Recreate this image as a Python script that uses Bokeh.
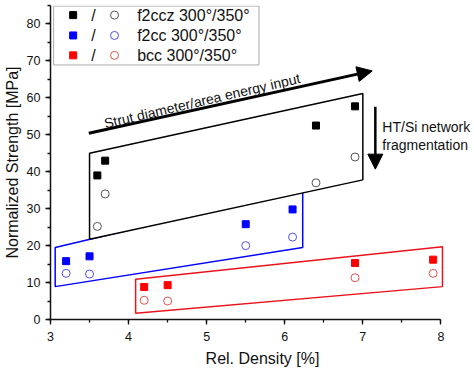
import math
from bokeh.plotting import figure
from bokeh.models import Arrow, NormalHead, Label, Range1d, SingleIntervalTicker
from bokeh.core.properties import value
from bokeh.embed import file_html
from bokeh.resources import INLINE

FONT = "Liberation Sans"

# ---- data ----
f2ccz_x = [3.6, 3.7, 6.4, 6.9]
f2ccz_300 = [39.0, 43.0, 52.5, 57.7]
f2ccz_350 = [25.2, 34.0, 37.0, 44.0]

f2cc_x = [3.2, 3.5, 5.5, 6.1]
f2cc_300 = [15.8, 17.1, 25.8, 29.8]
f2cc_350 = [12.5, 12.3, 20.0, 22.3]

bcc_x = [4.2, 4.5, 6.9, 7.9]
bcc_300 = [8.8, 9.3, 15.3, 16.2]
bcc_350 = [5.2, 5.0, 11.3, 12.5]

# envelopes
f2ccz_env_x = [3.5, 7.0, 7.0, 3.5]
f2ccz_env_y = [45.0, 61.2, 37.8, 21.7]
f2cc_env_x = [3.06, 6.23, 6.23, 3.06]
f2cc_env_y = [19.5, 35.3, 19.5, 8.9]
bcc_env_x = [4.09, 8.02, 8.02, 4.09]
bcc_env_y = [10.9, 19.7, 8.9, 1.7]

legend_labels = ["f2ccz 300°/350°", "f2cc 300°/350°", "bcc 300°/350°"]
fill_colors = ["#000000", "#0000ff", "#ff0000"]
open_colors = ["#555555", "#5050e8", "#e05050"]
env_colors = ["#000000", "#0000ff", "#e8141c"]

p = figure(width=474, height=370, output_backend="svg", toolbar_location=None,
           x_range=Range1d(3, 8.43), y_range=Range1d(0, 85),
           min_border_left=49, min_border_right=0, min_border_top=5,
           min_border_bottom=51)
p.outline_line_color = None
p.xgrid.visible = False
p.ygrid.visible = False
p.background_fill_color = "white"

p.xaxis.ticker = SingleIntervalTicker(interval=1, num_minor_ticks=2)
p.yaxis.ticker = SingleIntervalTicker(interval=10, num_minor_ticks=2)
p.xaxis.bounds = (3, 8)
for ax in (p.xaxis, p.yaxis):
    ax.axis_line_width = 1.5
    ax.axis_line_color = "#111111"
    ax.major_tick_line_color = "#111111"
    ax.minor_tick_line_color = "#111111"
    ax.major_tick_line_width = 1.3
    ax.minor_tick_line_width = 1.3
    ax.major_tick_out = 5
    ax.major_tick_in = 0
    ax.minor_tick_out = 3
    ax.minor_tick_in = 0
    ax.major_label_text_font = FONT
    ax.major_label_text_font_size = "12.5px"
    ax.major_label_text_color = "#111111"
    ax.axis_label_text_font = FONT
    ax.axis_label_text_font_size = "16px"
    ax.axis_label_text_font_style = "normal"
    ax.axis_label_text_color = "#111111"
p.xaxis.axis_label = "Rel. Density [%]"
p.yaxis.axis_label = "Normalized Strength [MPa]"
p.xaxis.major_label_standoff = 7
p.xaxis.axis_label_standoff = 6
p.yaxis.major_label_standoff = 5
p.yaxis.axis_label_standoff = 3

# envelopes (red, blue, black — black on top with white fill)
p.patch(bcc_env_x, bcc_env_y, fill_color="white", line_color=env_colors[2], line_width=1.5)
p.patch(f2cc_env_x, f2cc_env_y, fill_color="white", line_color=env_colors[1], line_width=1.5)
p.patch(f2ccz_env_x, f2ccz_env_y, fill_color="white", line_color=env_colors[0], line_width=1.5)

series = [(f2ccz_x, f2ccz_300, f2ccz_350), (f2cc_x, f2cc_300, f2cc_350), (bcc_x, bcc_300, bcc_350)]
for i, (xs, y300, y350) in enumerate(series):
    p.scatter(xs, y300, marker="square", size=7, fill_color=fill_colors[i], line_color=fill_colors[i])
    p.scatter(xs, y350, marker="circle", size=8, fill_color=None, line_color=open_colors[i], line_width=1)

# legend drawn manually
p.quad(left=[3.04], right=[5.67], bottom=[68.9], top=[84.85], fill_color="white",
       line_color="#aaaaaa", line_width=1)
rows_y = [82.4, 76.9, 71.5]
p.scatter([3.29] * 3, rows_y, marker="square", size=7, fill_color=fill_colors, line_color=fill_colors)
p.scatter([3.82] * 3, rows_y, marker="circle", size=8, fill_color=None, line_color=open_colors, line_width=1)
p.text([3.55] * 3, rows_y, text=["/"] * 3, text_font=value(FONT), text_font_size="16px",
       text_align="center", text_baseline="middle", text_color="#111111")
p.text([4.11] * 3, rows_y, text=legend_labels, text_font=value(FONT), text_font_size="16px",
       text_align="left", text_baseline="middle", text_color="#111111")

# arrows
p.add_layout(Arrow(end=NormalHead(size=15, fill_color="black", line_color="black"),
                   x_start=3.49, y_start=50.4, x_end=7.12, y_end=67.3,
                   line_width=3, line_color="black"))
p.add_layout(Arrow(end=NormalHead(size=15, fill_color="black", line_color="black"),
                   x_start=7.16, y_start=57.6, x_end=7.16, y_end=40.7,
                   line_width=2.5, line_color="black"))

p.add_layout(Label(x=3.69, y=53.0, text="Strut diameter/area energy input",
                   angle=math.radians(13.2), text_font=FONT, text_font_size="14px",
                   text_align="left", text_baseline="alphabetic", text_color="#111111"))
p.add_layout(Label(x=7.25, y=52.0, text="HT/Si network", text_font=FONT,
                   text_font_size="14px", text_align="left", text_baseline="middle",
                   text_color="#111111"))
p.add_layout(Label(x=7.25, y=47.2, text="fragmentation", text_font=FONT,
                   text_font_size="14px", text_align="left", text_baseline="middle",
                   text_color="#111111"))

open("out.html", "w").write(file_html(p, INLINE))
